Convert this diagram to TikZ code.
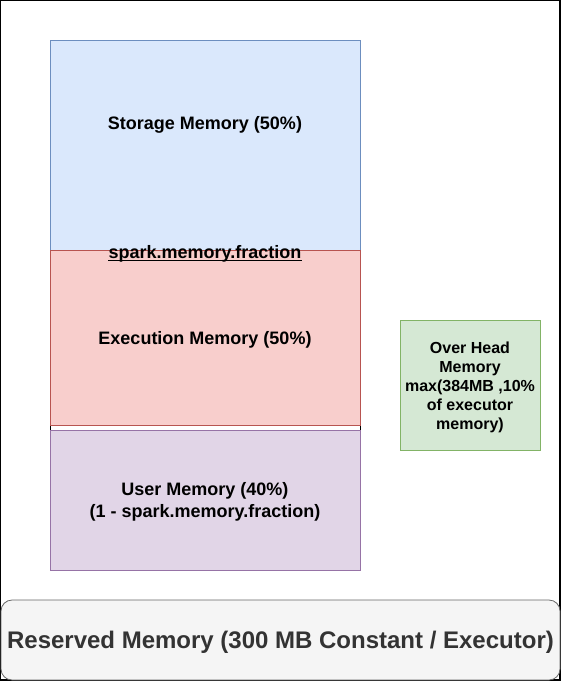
\documentclass[tikz,border=0pt]{standalone}
\usepackage{fontspec}
\setmainfont{Liberation Sans}
\definecolor{bluefill}{HTML}{DAE8FC}
\definecolor{bluedraw}{HTML}{6C8EBF}
\definecolor{redfill}{HTML}{F8CECC}
\definecolor{reddraw}{HTML}{B85450}
\definecolor{purpfill}{HTML}{E1D5E7}
\definecolor{purpdraw}{HTML}{9673A6}
\definecolor{greenfill}{HTML}{D5E8D4}
\definecolor{greendraw}{HTML}{82B366}
\definecolor{greyfill}{HTML}{F5F5F5}
\definecolor{greydraw}{HTML}{666666}
\definecolor{greytext}{HTML}{333333}
\begin{document}
\begin{tikzpicture}[x=1pt,y=-1pt,
  lbl/.style={font=\fontsize{18}{22}\selectfont\bfseries, align=center, inner sep=0pt},
  membox/.style={line width=0.8pt}]
\useasboundingbox (0,0) rectangle (561,681);
% outer frame
\draw[black, line width=1.2pt] (0.6,0.6) rectangle (560,680);
% background strip behind execution/user
\draw[black, fill=white, line width=0.8pt] (50,250) rectangle (360,430);
% storage
\draw[membox, fill=bluefill, draw=bluedraw] (50,40) rectangle (360,250);
\node[lbl] (storage) at (205,125) {Storage Memory (50\%)};
% execution
\draw[membox, fill=redfill, draw=reddraw] (50,250) rectangle (360,425);
\node[lbl] (fraction) at (205,254) {spark.memory.fraction};
\draw[line width=1pt] ([yshift=-1.6pt]fraction.base west) -- ([yshift=-1.6pt]fraction.base east);
\node[lbl] (execution) at (205,340) {Execution Memory (50\%)};
% user
\draw[membox, fill=purpfill, draw=purpdraw] (50,430) rectangle (360,570);
\node[lbl] (user) at (205,502) {User Memory (40\%)\\(1 - spark.memory.fraction)};
% overhead
\draw[membox, fill=greenfill, draw=greendraw] (400,320) rectangle (540,450);
\node[lbl, font=\fontsize{16}{19}\selectfont\bfseries] (overhead) at (470,387) {Over Head\\Memory\\max(384MB ,10\%\\of executor\\memory)};
% reserved
\draw[fill=greyfill, draw=greydraw, line width=0.8pt, rounded corners=11pt] (1,600) rectangle (560,680);
\node[lbl, font=\fontsize{24}{28}\selectfont\bfseries, text=greytext] (reserved) at (280.5,642) {Reserved Memory (300 MB Constant / Executor)};
\end{tikzpicture}
\end{document}
